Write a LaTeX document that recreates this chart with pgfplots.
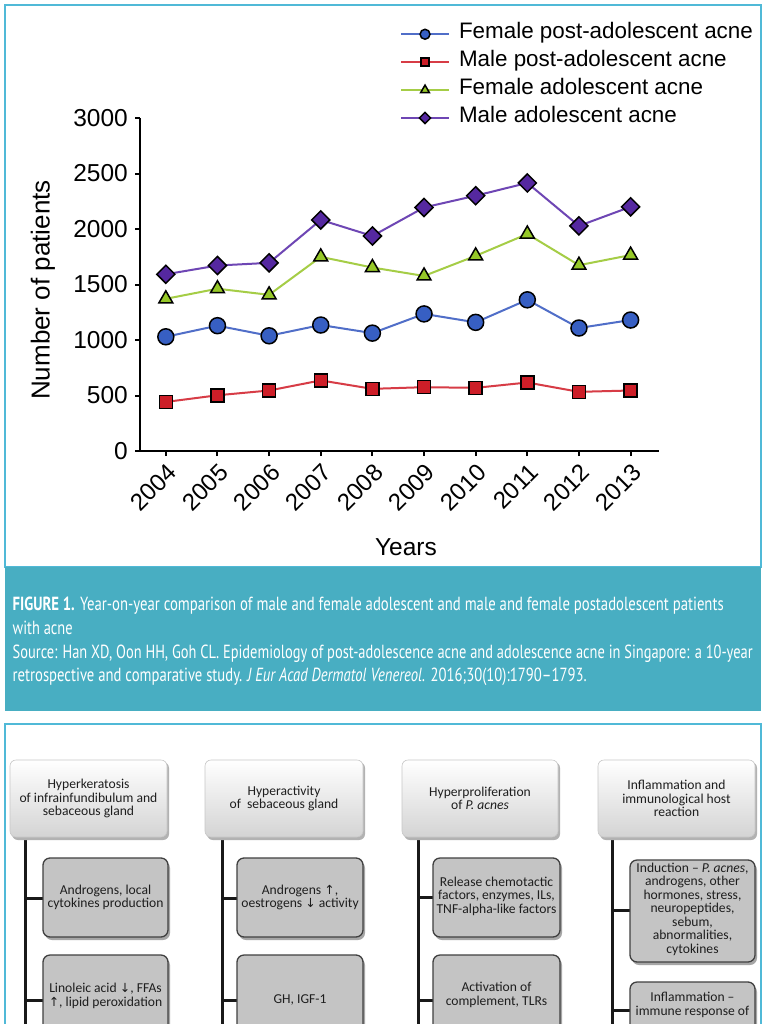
\documentclass[border=0pt]{standalone}
\usepackage{pgfplots}
\pgfplotsset{compat=1.18}
\usepackage{pgfplotstable}
\usepackage{graphicx}
\usepackage{fontspec}
\setmainfont{Liberation Sans}
\newfontfamily\capfont{PT Sans}
\newfontfamily\boxfont[Ligatures=TeX]{Carlito}
\newfontfamily\symfont{DejaVu Sans}

\definecolor{blueL}{RGB}{80,110,200}
\definecolor{blueF}{RGB}{55,95,195}
\definecolor{redL}{RGB}{215,60,70}
\definecolor{redF}{RGB}{205,30,40}
\definecolor{greenL}{RGB}{165,205,70}
\definecolor{greenF}{RGB}{150,200,40}
\definecolor{purpleL}{RGB}{110,70,180}
\definecolor{purpleF}{RGB}{85,40,160}
\definecolor{frameC}{RGB}{80,185,215}
\definecolor{tealC}{RGB}{72,174,194}
\definecolor{txtC}{RGB}{30,30,30}

\pgfplotstableread{
x fpost mpost fado mado
0 1029 442 1371 1592
1 1129 502 1462 1671
2 1038 545 1407 1695
3 1135 636 1749 2082
4 1062 560 1653 1937
5 1235 575 1577 2194
6 1159 569 1758 2300
7 1362 617 1955 2415
8 1108 533 1674 2028
9 1180 545 1765 2200
}\datatable

\newcommand\up{{\symfont\fontsize{12.5}{13}\selectfont ↑}}
\newcommand\dn{{\symfont\fontsize{12.5}{13}\selectfont ↓}}

\tikzset{
  hdr/.style={rounded corners=6pt, top color=white, bottom color=black!17},
  hdrsh/.style={rounded corners=6pt, fill=black!30},
  sub/.style={rounded corners=7pt, fill=black!23, draw=black!75, line width=1.3pt},
  subsh/.style={rounded corners=7pt, fill=black!35},
  btxt/.style={align=center, text=txtC, font=\boxfont\fontsize{13.6}{13.5}\selectfont, inner sep=0pt},
  conn/.style={line width=3pt, black!90}
}

\begin{document}
\begin{tikzpicture}
\useasboundingbox (0,0) rectangle (768pt,-1024pt);
\clip (0,0) rectangle (768pt,-1024pt);
\fill[white] (0,0) rectangle (768pt,-1024pt);

\begin{scope}[x=1pt,y=-1pt]
\draw[frameC, line width=1.3pt] (5,5) rectangle (761,567);
\fill[tealC] (5,567) rectangle (761,711);
\node[anchor=base west, inner sep=0pt, text=white] at (12.5,610) {\resizebox{711pt}{\height}{\capfont\fontsize{19}{22}\selectfont\textbf{FIGURE 1.} Year-on-year comparison of male and female adolescent and male and female postadolescent patients}};
\node[anchor=base west, inner sep=0pt, text=white] at (12.5,634) {\resizebox{60pt}{\height}{\capfont\fontsize{19}{22}\selectfont with acne}};
\node[anchor=base west, inner sep=0pt, text=white] at (12.5,658) {\resizebox{740pt}{\height}{\capfont\fontsize{19}{22}\selectfont Source: Han XD, Oon HH, Goh CL. Epidemiology of post-adolescence acne and adolescence acne in Singapore: a 10-year}};
\node[anchor=base west, inner sep=0pt, text=white] at (12.5,681) {\resizebox{574pt}{\height}{\capfont\fontsize{19}{22}\selectfont retrospective and comparative study. \textit{J Eur Acad Dermatol Venereol.} 2016;30(10):1790–1793.}};

\draw[frameC, line width=1.3pt] (5,724) rectangle (761,1060);

% vertical connectors
\draw[conn] (25,837) -- (25,1040);
\draw[conn] (222,837) -- (222,1040);
\draw[conn] (418,837) -- (418,1040);
\draw[conn] (612,837) -- (612,1070);
\draw[conn] (25,898) -- (43,898);
\draw[conn] (25,1000) -- (43,1000);
\draw[conn] (222,898) -- (237,898);
\draw[conn] (222,1000) -- (237,1000);
\draw[conn] (418,897) -- (433,897);
\draw[conn] (418,1000) -- (433,1000);
\draw[conn] (612,910) -- (630,910);
\draw[conn] (612,1010) -- (630,1010);

% header boxes
\foreach \a/\b in {10/167,205/363,402/558,598/755}{
  \fill[hdrsh] (\a+2,762) rectangle (\b+2,840);
  \shade[hdr] (\a,760) rectangle (\b,837);
  \draw[black!22, line width=0.6pt, rounded corners=6pt] (\a,760) rectangle (\b,837);
}
\node[btxt] at (88.5,798.5) {Hyperkeratosis\\of infrainfundibulum and\\sebaceous gland};
\node[btxt] at (284,798.5) {Hyperactivity\\of~ sebaceous gland};
\node[btxt] at (480,798.5) {Hyperproliferation\\of \textit{P. acnes}};
\node[btxt] at (676.5,798.5) {Inflammation and\\immunological host\\reaction};

% sub boxes
\foreach \a/\b/\c/\d in {43/168/858/937,43/168/955/1045,237/363/858/937,237/363/955/1045,433/560/858/937,433/560/955/1045,630/755/860/962,630/755/982/1070}{
  \fill[subsh] (\a+2,\c+3) rectangle (\b+2,\d+3);
  \draw[sub] (\a,\c) rectangle (\b,\d);
}
\node[btxt] at (105.5,897.5) {Androgens, local\\cytokines production};
\node[btxt] at (105.5,996) {Linoleic acid \dn, FFAs\\\up, lipid peroxidation};
\node[btxt] at (300,897.5) {Androgens \up,\\oestrogens \dn\ activity};
\node[btxt] at (300,1000) {GH, IGF-1};
\node[btxt] at (496.5,896) {Release chemotactic\\factors, enzymes, ILs,\\TNF-alpha-like factors};
\node[btxt] at (496.5,995) {Activation of\\complement, TLRs};
\node[btxt] at (692.5,909) {Induction – \textit{P. acnes},\\androgens, other\\hormones, stress,\\neuropeptides,\\sebum,\\abnormalities,\\cytokines};
\node[btxt, anchor=north] at (692.5,992) {Inflammation –\\immune response of};
\end{scope}

\begin{axis}[
  at={(140pt,-451pt)}, anchor=south west,
  scale only axis, width=519pt, height=333pt,
  xmin=-0.5, xmax=9.55, ymin=0, ymax=3000,
  axis lines*=left,
  axis line style={line width=2pt, black},
  tick align=outside, major tick length=5pt,
  every tick/.style={black, line width=2pt},
  xtick={0,1,2,3,4,5,6,7,8,9},
  xticklabels={2004,2005,2006,2007,2008,2009,2010,2011,2012,2013},
  ytick={0,500,1000,1500,2000,2500,3000},
  scaled y ticks=false,
  /pgf/number format/assume math mode=true,
  /pgf/number format/1000 sep={},
  yticklabel style={font=\fontsize{24.5}{28}\selectfont, inner sep=0pt, xshift=-7pt},
  xticklabel style={xshift=6.7pt, yshift=-12.3pt, rotate=45, anchor=east, inner sep=0pt, font=\fontsize{24}{28}\selectfont},
  ylabel={Number of patients},
  ylabel style={at={(axis description cs:-0.1869,0.4835)}, anchor=center, font=\fontsize{26}{30}\selectfont},
  xlabel={Years},
  xlabel style={at={(axis description cs:0.5125,-0.3123)}, anchor=base, font=\fontsize{24.5}{28}\selectfont},
  clip=false,
  legend cell align=left,
  legend style={at={(axis description cs:0.501,1.2934)}, anchor=north west, draw=none, fill=none,
    inner sep=0pt, outer sep=0pt, row sep=0pt, column sep=9pt,
    font=\fontsize{22.4}{27.9}\selectfont,
    nodes={inner sep=0pt, text height=18pt, text depth=9.9pt}},
  legend image code/.code={\draw[mark repeat=2, mark phase=2, #1, /tikz/every mark/.append style={scale=0.62}] plot coordinates {(0pt,0pt) (24pt,0pt) (48pt,0pt)};},
]
\addplot[blueL, line width=2pt, mark=*, mark size=8pt, mark options={fill=blueF, draw=black, line width=1.5pt}] table[x=x,y=fpost]{\datatable};
\addlegendentry{Female post-adolescent acne}
\addplot[redL, line width=2pt, mark=square*, mark size=6.5pt, mark options={fill=redF, draw=black, line width=1.5pt}] table[x=x,y=mpost]{\datatable};
\addlegendentry{Male post-adolescent acne}
\addplot[greenL, line width=2pt, mark=triangle*, mark size=8pt, mark options={fill=greenF, draw=black, line width=1.5pt}] table[x=x,y=fado]{\datatable};
\addlegendentry{Female adolescent acne}
\addplot[purpleL, line width=2pt, mark=square*, mark size=6.4pt, mark options={rotate=45, fill=purpleF, draw=black, line width=1.5pt}] table[x=x,y=mado]{\datatable};
\addlegendentry{Male adolescent acne}
\end{axis}
\end{tikzpicture}
\end{document}
